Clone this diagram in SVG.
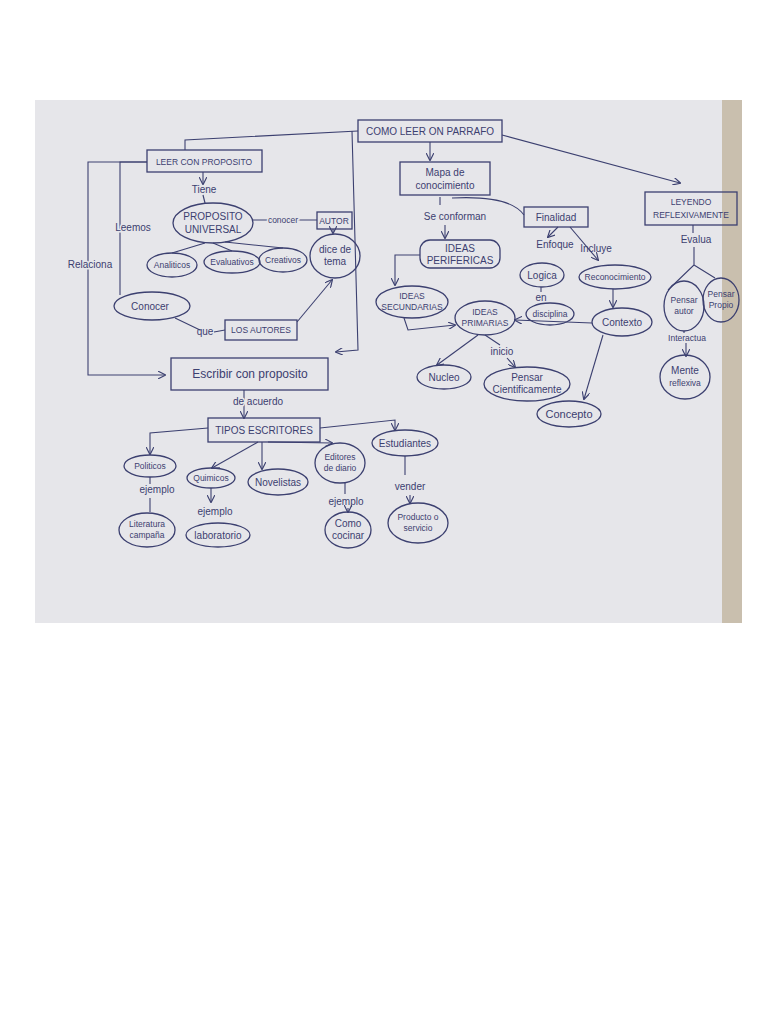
<svg xmlns="http://www.w3.org/2000/svg" width="768" height="1024" viewBox="0 0 768 1024">
<defs>
<marker id="a" viewBox="0 0 10 10" refX="9" refY="5" markerWidth="7" markerHeight="7" orient="auto"><path d="M0,0 L10,5 L0,10" fill="none" stroke="#3c4070" stroke-width="1.5"/></marker>
</defs>
<style>
.n{fill:none;stroke:#3c4070;stroke-width:1.3}
.t{font-family:"Liberation Sans",sans-serif;font-size:10px;fill:#3c4070;text-anchor:middle}
.s{font-size:8.5px}
.c{fill:none;stroke:#3c4070;stroke-width:1.1}
</style>
<rect width="768" height="1024" fill="#ffffff"/>
<rect x="35" y="100" width="707" height="523" fill="#e6e6ea"/>
<rect x="722" y="100" width="20" height="523" fill="#c9bfae"/>
<g id="connectors">
<path class="c" d="M358,131 L185,140 L185,150"/>
<path class="c" d="M430,142 L430,160" marker-end="url(#a)"/>
<path class="c" d="M502,135 L680,183" marker-end="url(#a)"/>
<path class="c" d="M352,131 L358,350 L336,352" marker-end="url(#a)"/>
<path class="c" d="M147,162 L88,162 L88,375 L165,375" marker-end="url(#a)"/>
<path class="c" d="M147,162 L120,162 L120,295"/>
<path class="c" d="M203,172 L203,184" marker-end="url(#a)"/>
<path class="c" d="M203,195 L205,203"/>
<path class="c" d="M253,220 L317,220"/>
<path class="c" d="M333,229 L333,233" marker-end="url(#a)"/>
<path class="c" d="M205,243 L172,253 M213,243 L232,251 M225,242 L283,248"/>
<path class="c" d="M175,318 L200,330 M214,332 L225,330"/>
<path class="c" d="M297,322 L332,280" marker-end="url(#a)"/>
<path class="c" d="M244,390 L244,418" marker-end="url(#a)"/>
<path class="c" d="M208,428 L150,433 L150,454" marker-end="url(#a)"/>
<path class="c" d="M258,442 L212,468" marker-end="url(#a)"/>
<path class="c" d="M262,442 L262,469" marker-end="url(#a)"/>
<path class="c" d="M268,442 L332,443" marker-end="url(#a)"/>
<path class="c" d="M320,428 L395,420 L395,430" marker-end="url(#a)"/>
<path class="c" d="M150,477 L150,484 M150,498 L150,512"/>
<path class="c" d="M211,488 L211,502" marker-end="url(#a)"/>
<path class="c" d="M345,483 L345,494 M348,508 L348,512" marker-end="url(#a)"/>
<path class="c" d="M405,456 L405,475 M410,495 L410,503" marker-end="url(#a)"/>
<path class="c" d="M440,197 L440,205 M445,225 L445,238" marker-end="url(#a)"/>
<path class="c" d="M452,198 Q510,195 524,215"/>
<path class="c" d="M420,255 L395,255 L395,285" marker-end="url(#a)"/>
<path class="c" d="M404,318 L408,330 L455,325" marker-end="url(#a)"/>
<path class="c" d="M558,227 L548,237" marker-end="url(#a)"/>
<path class="c" d="M570,227 L598,260" marker-end="url(#a)"/>
<path class="c" d="M541,287 L541,292"/>
<path class="c" d="M613,289 L613,307" marker-end="url(#a)"/>
<path class="c" d="M592,323 L515,320" marker-end="url(#a)"/>
<path class="c" d="M603,335 L584,399" marker-end="url(#a)"/>
<path class="c" d="M478,335 L437,365" marker-end="url(#a)"/>
<path class="c" d="M485,335 L500,345 M507,358 L515,367" marker-end="url(#a)"/>
<path class="c" d="M693,225 L693,233 M694,247 L694,265 L668,290 M694,265 L715,278"/>
<path class="c" d="M684,331 L684,333 M686,343 L686,356" marker-end="url(#a)"/>
</g>
<g id="como"><rect class="n" x="358" y="120" width="144" height="22"/><text class="t" x="430" y="135">COMO LEER ON PARRAFO</text></g>
<g id="leer"><rect class="n" x="147" y="150" width="115" height="22"/><text class="t s" x="204" y="165">LEER CON PROPOSITO</text></g>
<text class="t" x="204" y="193">Tiene</text>
<g id="proposito"><ellipse class="n" cx="213" cy="223" rx="40" ry="20"/><text class="t" x="213" y="220">PROPOSITO</text><text class="t" x="213" y="233">UNIVERSAL</text></g>
<text class="t s" x="283" y="223" style="fill:#3c4070;paint-order:stroke;stroke:#e6e6ea;stroke-width:3px">conocer</text>
<g id="autor"><rect class="n" x="317" y="212" width="35" height="17"/><text class="t s" x="334" y="224">AUTOR</text></g>
<g id="dice"><ellipse class="n" cx="335" cy="256" rx="25" ry="22"/><text class="t" x="335" y="253">dice de</text><text class="t" x="335" y="265">tema</text></g>
<g id="analiticos"><ellipse class="n" cx="172" cy="265" rx="25" ry="12"/><text class="t s" x="172" y="268">Analiticos</text></g>
<g id="evaluativos"><ellipse class="n" cx="232" cy="262" rx="28" ry="11"/><text class="t s" x="232" y="265">Evaluativos</text></g>
<g id="creativos"><ellipse class="n" cx="283" cy="260" rx="24" ry="12"/><text class="t s" x="283" y="263">Creativos</text></g>
<text class="t" x="133" y="231" style="paint-order:stroke;stroke:#e6e6ea;stroke-width:3px">Leemos</text>
<text class="t" x="90" y="268" style="paint-order:stroke;stroke:#e6e6ea;stroke-width:3px">Relaciona</text>
<g id="conocer"><ellipse class="n" cx="152" cy="306" rx="38" ry="14"/><text class="t" x="150" y="310">Conocer</text></g>
<text class="t" x="205" y="335">que</text>
<g id="autores"><rect class="n" x="225" y="320" width="72" height="20"/><text class="t s" x="261" y="333">LOS AUTORES</text></g>
<g id="escribir"><rect class="n" x="171" y="358" width="157" height="32"/><text class="t" x="250" y="378" style="font-size:12px">Escribir con proposito</text></g>
<text class="t" x="258" y="405" style="paint-order:stroke;stroke:#e6e6ea;stroke-width:3px">de acuerdo</text>
<g id="tipos"><rect class="n" x="208" y="418" width="112" height="24"/><text class="t" x="264" y="434">TIPOS ESCRITORES</text></g>
<g id="politicos"><ellipse class="n" cx="150" cy="466" rx="26" ry="11"/><text class="t s" x="150" y="469">Politicos</text></g>
<text class="t" x="157" y="493">ejemplo</text>
<g id="literatura"><ellipse class="n" cx="147" cy="530" rx="28" ry="17"/><text class="t s" x="147" y="527">Literatura</text><text class="t s" x="147" y="538">campaña</text></g>
<g id="quimicos"><ellipse class="n" cx="211" cy="478" rx="24" ry="10"/><text class="t s" x="211" y="481">Quimicos</text></g>
<text class="t" x="215" y="515">ejemplo</text>
<g id="laboratorio"><ellipse class="n" cx="218" cy="535" rx="32" ry="12"/><text class="t" x="218" y="539">laboratorio</text></g>
<g id="novelistas"><ellipse class="n" cx="278" cy="482" rx="30" ry="13"/><text class="t" x="278" y="486">Novelistas</text></g>
<g id="editores"><ellipse class="n" cx="340" cy="463" rx="25" ry="20"/><text class="t s" x="340" y="460">Editores</text><text class="t s" x="340" y="471">de diario</text></g>
<text class="t" x="346" y="505">ejemplo</text>
<g id="cocina"><ellipse class="n" cx="348" cy="530" rx="23" ry="18"/><text class="t" x="348" y="527">Como</text><text class="t" x="348" y="539">cocinar</text></g>
<g id="estudiantes"><ellipse class="n" cx="405" cy="443" rx="33" ry="13"/><text class="t" x="405" y="447">Estudiantes</text></g>
<text class="t" x="410" y="490">vender</text>
<g id="producto"><ellipse class="n" cx="418" cy="523" rx="30" ry="20"/><text class="t s" x="418" y="520">Producto o</text><text class="t s" x="418" y="531">servicio</text></g>
<g id="mapa"><rect class="n" x="400" y="162" width="90" height="33"/><text class="t" x="445" y="176">Mapa de</text><text class="t" x="445" y="189">conocimiento</text></g>
<text class="t" x="455" y="220">Se conforman</text>
<g id="finalidad"><rect class="n" x="524" y="207" width="64" height="20"/><text class="t" x="556" y="221">Finalidad</text></g>
<g id="perifericas"><rect class="n" x="420" y="240" width="80" height="28" rx="10"/><text class="t" x="460" y="252">IDEAS</text><text class="t" x="460" y="264">PERIFERICAS</text></g>
<g id="secundarias"><ellipse class="n" cx="412" cy="302" rx="36" ry="16"/><text class="t s" x="412" y="299">IDEAS</text><text class="t s" x="412" y="310">SECUNDARIAS</text></g>
<g id="primarias"><ellipse class="n" cx="485" cy="318" rx="30" ry="17"/><text class="t s" x="485" y="315">IDEAS</text><text class="t s" x="485" y="326">PRIMARIAS</text></g>
<text class="t" x="555" y="248">Enfoque</text>
<text class="t" x="596" y="252">Incluye</text>
<g id="logica"><ellipse class="n" cx="542" cy="275" rx="22" ry="12"/><text class="t" x="542" y="279">Logica</text></g>
<text class="t" x="541" y="301">en</text>
<g id="disciplina"><ellipse class="n" cx="550" cy="314" rx="24" ry="11"/><text class="t s" x="550" y="317">disciplina</text></g>
<g id="reconocimiento"><ellipse class="n" cx="615" cy="277" rx="36" ry="12"/><text class="t s" x="615" y="280">Reconocimiento</text></g>
<g id="contexto"><ellipse class="n" cx="622" cy="322" rx="30" ry="14"/><text class="t" x="622" y="326">Contexto</text></g>
<g id="nucleo"><ellipse class="n" cx="444" cy="377" rx="27" ry="12"/><text class="t" x="444" y="381">Nucleo</text></g>
<text class="t" x="502" y="355">inicio</text>
<g id="pensar"><ellipse class="n" cx="527" cy="384" rx="43" ry="17"/><text class="t" x="527" y="381">Pensar</text><text class="t" x="527" y="393">Cientificamente</text></g>
<g id="concepto"><ellipse class="n" cx="569" cy="414" rx="32" ry="13"/><text class="t" x="569" y="418" style="font-size:11px">Concepto</text></g>
<g id="leyendo"><rect class="n" x="645" y="192" width="92" height="33"/><text class="t s" x="691" y="205">LEYENDO</text><text class="t s" x="691" y="218">REFLEXIVAMENTE</text></g>
<text class="t" x="696" y="243">Evalua</text>
<g id="autor2"><ellipse class="n" cx="684" cy="306" rx="20" ry="25"/><text class="t s" x="684" y="303">Pensar</text><text class="t s" x="684" y="314">autor</text></g>
<g id="propio"><ellipse class="n" cx="721" cy="300" rx="18" ry="22"/><text class="t s" x="721" y="297">Pensar</text><text class="t s" x="721" y="308">Propio</text></g>
<text class="t s" x="687" y="341">Interactua</text>
<g id="mente"><ellipse class="n" cx="685" cy="377" rx="25" ry="22"/><text class="t" x="685" y="374">Mente</text><text class="t s" x="685" y="386">reflexiva</text></g>
</svg>
